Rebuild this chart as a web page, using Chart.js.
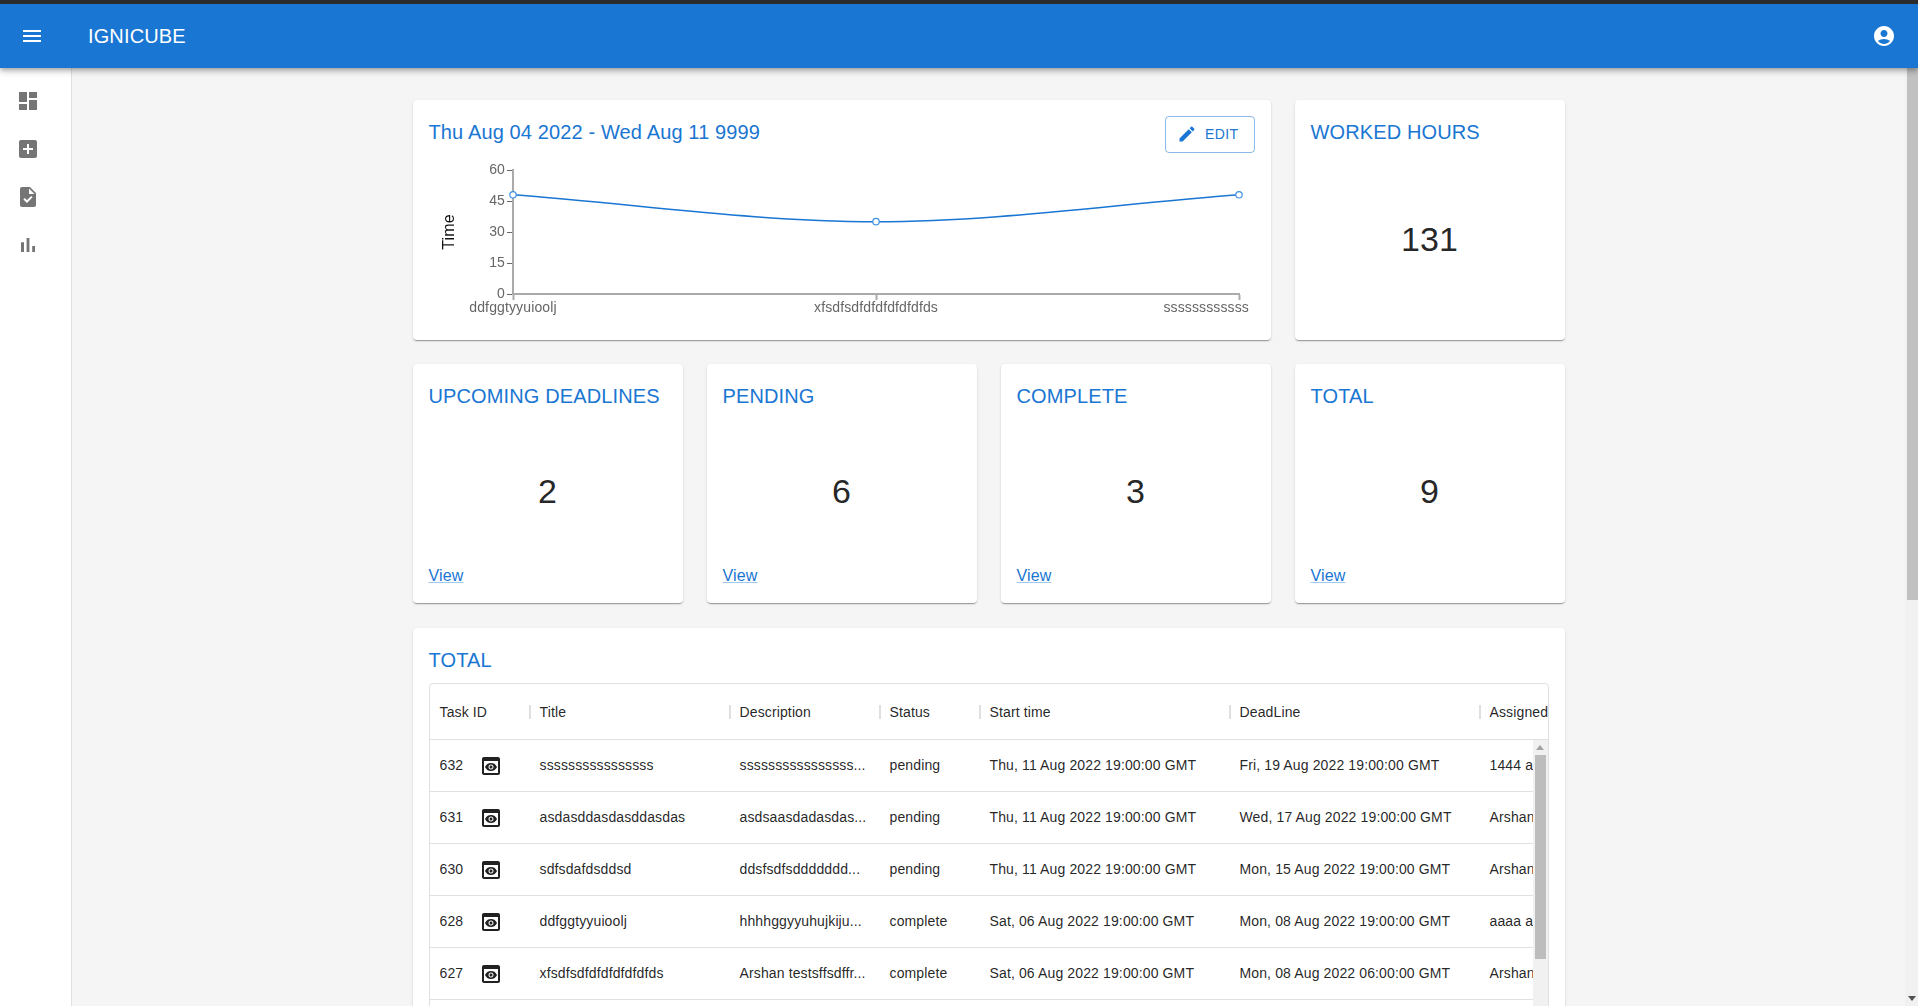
<!DOCTYPE html>
<html>
<head>
<meta charset="utf-8">
<title>IGNICUBE</title>
<script src="https://cdn.jsdelivr.net/npm/chart.js@4"></script>
<style>
  * { box-sizing: border-box; }
  html, body { margin: 0; height: 100%; overflow: hidden; background: #f5f5f5; font-family: "Liberation Sans", Arial, sans-serif; color: rgba(0,0,0,.87); letter-spacing: .13px; }
  .abs, .topline, .appbar, .sidebar, .card, .pagebar { position: absolute; }
  .topline { left: 0; top: 0; width: 1918px; height: 4px; background: #2b2b2b; z-index: 5; }
  .appbar { left: 0; top: 4px; width: 1918px; height: 64px; background: #1976d2; color: #fff; z-index: 4;
    box-shadow: 0 2px 4px -1px rgba(0,0,0,.2), 0 4px 5px 0 rgba(0,0,0,.14), 0 1px 10px 0 rgba(0,0,0,.12); }
  .appbar .name { position: absolute; left: 88px; top: 16px; font-size: 20px; line-height: 32px; }
  .sidebar { left: 0; top: 68px; width: 72px; height: 938px; background: #fff; border-right: 1px solid #e0e0e0; }
  svg.icon { position: absolute; width: 24px; height: 24px; fill: currentColor; }
  .sidebar svg.icon { left: 16px; color: rgba(0,0,0,.54); }
  .card { background: #fff; border-radius: 4px;
    box-shadow: 0 2px 1px -1px rgba(0,0,0,.2), 0 1px 1px 0 rgba(0,0,0,.14), 0 1px 3px 0 rgba(0,0,0,.12); }
  .head { position: absolute; left: 15.5px; font-size: 20px; line-height: 32px; color: #1976d2; white-space: nowrap; }
  .num { position: absolute; left: -1px; right: 0; text-align: center; font-size: 34px; line-height: 40px; }
  .view { position: absolute; left: 15.5px; font-size: 16px; line-height: 24px; color: #1976d2; text-decoration: underline; text-decoration-color: rgba(25,118,210,.4); }
  .edit { position: absolute; left: 752px; top: 16px; width: 90px; height: 37px; border: 1px solid rgba(25,118,210,.5); border-radius: 4px; color: #1976d2;
    font-size: 14px; letter-spacing: .4px; line-height: 35px; padding-left: 39px; }
  .edit svg.icon { left: 11px; top: 7px; width: 20px; height: 20px; }
  #chartBox { position: absolute; left: 430px; top: 155px; width: 830px; height: 175px; z-index: 1; }
  .grid { position: absolute; left: 16px; top: 55px; width: 1120px; height: 400px; border: 1px solid #e0e0e0; border-radius: 4px; overflow: hidden; font-size: 14px; }
  .row { position: absolute; left: 0; width: 1120px; height: 52px; border-bottom: 1px solid #e0e0e0; }
  .cell { position: absolute; top: 0; line-height: 51px; padding: 0 9.5px; white-space: nowrap; }
  .hcell { position: absolute; top: 0; line-height: 56px; padding: 0 9.5px; white-space: nowrap; font-weight: 400; }
  .sep { position: absolute; top: 21px; width: 2px; height: 14px; background: #e0e0e0; }
  .scroll { position: absolute; left: 1103px; top: 56px; width: 16px; height: 344px; background: #f1f1f1; }
  .thumb { position: absolute; left: 2px; top: 15px; width: 11px; height: 204px; background: #bdbdbd; }
  .up { position: absolute; left: 3px; top: 5px; width: 0; height: 0; border: 4px solid transparent; border-bottom: 5px solid #a3a3a3; border-top: 0; }
  .pagebar { left: 1905px; top: 68px; width: 13px; height: 938px; background: #f1f1f1; z-index: 3; }
  .pagebar .thumb { left: 2px; top: 0; width: 11px; height: 532px; background: #c1c1c1; }
  .pagebar .down { position: absolute; left: 3px; top: 928px; width: 0; height: 0; border: 4px solid transparent; border-top: 5px solid #505050; border-bottom: 0; }
</style>
</head>
<body>
<div class="topline"></div>
<div class="appbar">
  <svg class="icon" style="left:20px;top:20px" viewBox="0 0 24 24"><path d="M3 18h18v-2H3v2zm0-5h18v-2H3v2zm0-7v2h18V6H3z"/></svg>
  <div class="name">IGNICUBE</div>
  <svg class="icon" style="left:1872px;top:20px" viewBox="0 0 24 24"><path d="M12 2C6.48 2 2 6.48 2 12s4.48 10 10 10 10-4.48 10-10S17.52 2 12 2zm0 4c1.93 0 3.5 1.57 3.5 3.5S13.93 13 12 13s-3.5-1.57-3.5-3.5S10.07 6 12 6zm0 14c-2.03 0-4.43-.82-6.14-2.88C7.55 15.8 9.68 15 12 15s4.45.8 6.14 2.12C16.43 19.18 14.03 20 12 20z"/></svg>
</div>
<div class="sidebar" id="sidebar"></div>
<div class="pagebar"><div class="thumb"></div><div class="down"></div></div>

<div class="card" style="left:413px;top:100px;width:858px;height:240px">
  <div class="head" style="top:16px">Thu Aug 04 2022 - Wed Aug 11 9999</div>
  <div class="edit">
    <svg class="icon" viewBox="0 0 24 24"><path d="M3 17.25V21h3.75L17.81 9.94l-3.75-3.75L3 17.25zM20.71 7.04c.39-.39.39-1.02 0-1.41l-2.34-2.34a.9959.9959 0 0 0-1.41 0l-1.83 1.83 3.75 3.75 1.83-1.83z"/></svg>EDIT
  </div>
</div>
<div id="chartBox"><canvas id="hours"></canvas></div>
<div class="card" style="left:1295px;top:100px;width:270px;height:240px">
  <div class="head" style="top:16px">WORKED HOURS</div>
  <div class="num" style="top:119px">131</div>
</div>
<div id="stats"></div>
<div class="card" id="tableCard" style="left:413px;top:628px;width:1152px;height:500px">
  <div class="head" style="top:16px">TOTAL</div>
  <div class="grid" id="grid"></div>
</div>

<script>
// chart values
const taskTitles = ['ddfggtyyuioolj', 'xfsdfsdfdfdfdfdfdfds', 'ssssssssssss'];
const taskHours = [48, 35, 48];
const hourTicks = [0, 15, 30, 45, 60];

// stat cards
const statNames = ['UPCOMING DEADLINES', 'PENDING', 'COMPLETE', 'TOTAL'];
const statValues = [2, 6, 3, 9];
const statLefts = [413, 707, 1001, 1295];
const statWidths = [270, 270, 270, 270];

// table
const columnNames = ['Task ID', 'Title', 'Description', 'Status', 'Start time', 'DeadLine', 'Assigned'];
const columnWidths = [100, 200, 150, 100, 250, 250, 200];
const rowIds = ['632', '631', '630', '628', '627'];
const rowTitles = ['ssssssssssssssss', 'asdasddasdasddasdas', 'sdfsdafdsddsd', 'ddfggtyyuioolj', 'xfsdfsdfdfdfdfdfdfds'];
const rowDescriptions = ['ssssssssssssssss...', 'asdsaasdadasdas...', 'ddsfsdfsddddddd...', 'hhhhggyyuhujkiju...', 'Arshan testsffsdffr...'];
const rowStatus = ['pending', 'pending', 'pending', 'complete', 'complete'];
const rowStarts = ['Thu, 11 Aug 2022 19:00:00 GMT', 'Thu, 11 Aug 2022 19:00:00 GMT', 'Thu, 11 Aug 2022 19:00:00 GMT', 'Sat, 06 Aug 2022 19:00:00 GMT', 'Sat, 06 Aug 2022 19:00:00 GMT'];
const rowDeadlines = ['Fri, 19 Aug 2022 19:00:00 GMT', 'Wed, 17 Aug 2022 19:00:00 GMT', 'Mon, 15 Aug 2022 19:00:00 GMT', 'Mon, 08 Aug 2022 19:00:00 GMT', 'Mon, 08 Aug 2022 06:00:00 GMT'];
const rowAssigned = ['1444 asd', 'Arshan', 'Arshan', 'aaaa asd', 'Arshan'];

const sideIcons = [
    'M3 13h8V3H3v10zm0 8h8v-6H3v6zm10 0h8V11h-8v10zm0-18v6h8V3h-8z',
    'M19 3H5c-1.11 0-2 .9-2 2v14c0 1.1.89 2 2 2h14c1.1 0 2-.9 2-2V5c0-1.1-.9-2-2-2zm-2 10h-4v4h-2v-4H7v-2h4V7h2v4h4v2z',
    'M14 2H6c-1.1 0-1.99.9-1.99 2L4 20c0 1.1.89 2 1.99 2H18c1.1 0 2-.9 2-2V8l-6-6zm-3.06 16L7.4 14.46l1.41-1.41 2.12 2.12 4.24-4.24 1.41 1.41L10.94 18zM13 9V3.5L18.5 9H13z',
    'M5 9.2h3V19H5zM10.6 5h2.8v14h-2.8zm5.6 8H19v6h-2.8z'
];
const eyeIcon = 'M19 3H5c-1.11 0-2 .9-2 2v14c0 1.1.89 2 2 2h14c1.1 0 2-.9 2-2V5c0-1.1-.89-2-2-2zm0 16H5V7h14v12zm-5.5-6c0 .83-.67 1.5-1.5 1.5s-1.5-.67-1.5-1.5.67-1.5 1.5-1.5 1.5.67 1.5 1.5zM12 9c-2.73 0-5.06 1.66-6 4 .94 2.34 3.27 4 6 4s5.06-1.66 6-4c-.94-2.34-3.27-4-6-4zm0 6.5c-1.38 0-2.5-1.12-2.5-2.5s1.12-2.5 2.5-2.5 2.5 1.12 2.5 2.5-1.12 2.5-2.5 2.5z';

document.getElementById('sidebar').innerHTML = sideIcons.map((d, i) =>
    `<svg class="icon" style="top:${21 + i * 48}px" viewBox="0 0 24 24"><path d="${d}"/></svg>`).join('');

document.getElementById('stats').innerHTML = statNames.map((name, i) => `
  <div class="card" style="left:${statLefts[i]}px;top:364px;width:${statWidths[i]}px;height:239px">
    <div class="head" style="top:16px">${name}</div>
    <div class="num" style="top:107px">${statValues[i]}</div>
    <div class="view" style="top:200px">View</div>
  </div>`).join('');

// table rows
let html = '';
let x = 0;
columnNames.forEach((name, c) => {
    html += `<div class="hcell" style="left:${x}px">${name}</div>`;
    if (c > 0) html += `<div class="sep" style="left:${x - 1}px"></div>`;
    x += columnWidths[c];
});
html += '<div class="row" style="top:0;height:56px"></div>';
rowIds.forEach((id, r) => {
    const cols = [id, rowTitles[r], rowDescriptions[r], rowStatus[r], rowStarts[r], rowDeadlines[r], rowAssigned[r]];
    let left = 0;
    html += `<div class="row" style="top:${56 + r * 52}px">`;
    cols.forEach((text, c) => {
        html += `<div class="cell" style="left:${left}px">${text}</div>`;
        left += columnWidths[c];
    });
    html += `<svg class="icon" style="left:49px;top:14px;color:#212121" viewBox="0 0 24 24"><path d="${eyeIcon}"/></svg></div>`;
});
html += '<div class="scroll"><div class="up"></div><div class="thumb"></div></div>';
document.getElementById('grid').innerHTML = html;

// recharts style last label, it is pulled back inside the card
const lastLabel = {
    id: 'lastLabel',
    beforeDraw(chart) {
        chart.ctx.letterSpacing = '.13px';
    },
    afterDraw(chart) {
        const { ctx } = chart;
        ctx.save();
        ctx.font = '14px "Liberation Sans"';
        ctx.fillStyle = '#666';
        ctx.textAlign = 'right';
        ctx.textBaseline = 'middle';
        ctx.fillText(taskTitles[taskTitles.length - 1], 819, 153);
        ctx.restore();
    }
};

new Chart(document.getElementById('hours'), {
    type: 'line',
    plugins: [lastLabel],
    data: {
        labels: taskTitles,
        datasets: [{
            data: taskHours,
            borderColor: '#1976d2',
            borderWidth: 1.5,
            cubicInterpolationMode: 'monotone',
            pointRadius: 3.2,
            pointBorderWidth: 1.2,
            pointBackgroundColor: '#fff',
            pointBorderColor: '#3d8fe0',
            clip: false
        }]
    },
    options: {
        responsive: true,
        maintainAspectRatio: false,
        animation: false,
        layout: { padding: { top: 15, right: 21, bottom: 0, left: 0 } },
        plugins: { legend: { display: false }, tooltip: { enabled: false } },
        scales: {
            x: {
                offset: false,
                afterFit(scale) { scale.height = 36; },
                grid: { drawOnChartArea: false, tickLength: 6, tickWidth: 2, tickColor: '#aaa' },
                border: { color: '#aaa', width: 2 },
                ticks: {
                    color: '#666',
                    font: { family: '"Liberation Sans"', size: 14 },
                    padding: 0,
                    maxRotation: 0,
                    autoSkip: false,
                    callback(value, index) { return index === taskTitles.length - 1 ? '' : this.getLabelForValue(value); }
                }
            },
            y: {
                min: hourTicks[0],
                max: hourTicks[hourTicks.length - 1],
                afterFit(scale) { scale.width = 83; },
                title: { display: true, text: 'Time', color: '#111', font: { family: '"Liberation Sans"', size: 16 }, padding: { top: 10, bottom: 0 } },
                grid: { drawOnChartArea: false, tickLength: 6, tickWidth: 1, tickColor: '#666' },
                border: { color: '#aaa', width: 2 },
                afterBuildTicks(scale) { scale.ticks = hourTicks.map(value => ({ value })); },
                ticks: { color: '#666', font: { family: '"Liberation Sans"', size: 14 }, padding: 2 }
            }
        }
    }
});
</script>
</body>
</html>
